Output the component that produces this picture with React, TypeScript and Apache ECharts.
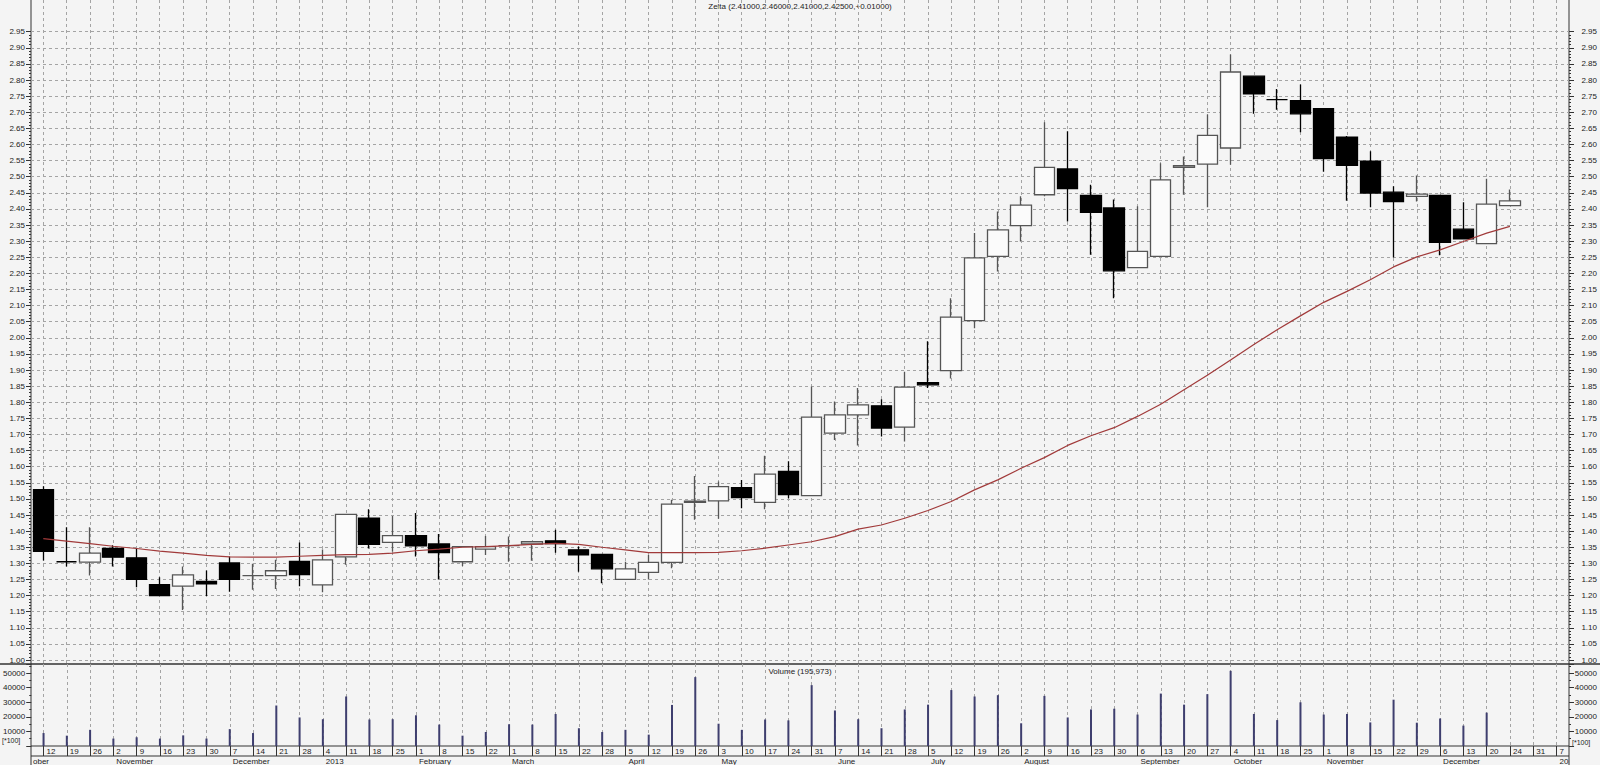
import React, { useEffect, useRef } from "react";
import * as echarts from "echarts";

// ---------- data ----------
const dateLabels = [
  "12", "19", "26", "2", "9", "16", "23", "30", "7", "14", "21", "28", "4", "11", "18", "25",
  "1", "8", "15", "22", "1", "8", "15", "22", "28", "5", "12", "19", "26", "3", "10", "17",
  "24", "31", "7", "14", "21", "28", "5", "12", "19", "26", "2", "9", "16", "23", "30", "6",
  "13", "20", "27", "4", "11", "18", "25", "1", "8", "15", "22", "29", "6", "13", "20", "24",
  "31", "7",
];
const monthStarts = [3, 8, 12, 16, 20, 25, 29, 34, 38, 42, 47, 51, 55, 60, 65];
const monthNames = [
  "November", "December", "2013", "February", "March", "April", "May", "June", "July",
  "August", "September", "October", "November", "December", "20",
];

const opens = [
  1.529, 1.305, 1.304, 1.346, 1.317, 1.234, 1.229, 1.244, 1.301, 1.262, 1.262, 1.306, 1.233, 1.32, 1.44, 1.365,
  1.386, 1.36, 1.305, 1.344, 1.355, 1.36, 1.37, 1.342, 1.328, 1.25, 1.272, 1.303, 1.489, 1.494, 1.535, 1.489,
  1.585, 1.51, 1.704, 1.761, 1.789, 1.723, 1.861, 1.898, 2.053, 2.253, 2.348, 2.444, 2.524, 2.442, 2.403, 2.218,
  2.253, 2.529, 2.539, 2.589, 2.812, 2.739, 2.736, 2.711, 2.623, 2.548, 2.452, 2.439, 2.442, 2.337, 2.292, 2.41,
];
const closes = [
  1.337, 1.305, 1.332, 1.319, 1.25, 1.2, 1.264, 1.236, 1.25, 1.262, 1.277, 1.265, 1.311, 1.452, 1.359, 1.386,
  1.354, 1.333, 1.352, 1.352, 1.355, 1.367, 1.361, 1.326, 1.283, 1.283, 1.303, 1.484, 1.493, 1.538, 1.504, 1.577,
  1.513, 1.754, 1.761, 1.792, 1.72, 1.847, 1.854, 2.064, 2.248, 2.335, 2.412, 2.529, 2.463, 2.389, 2.208, 2.268,
  2.49, 2.534, 2.628, 2.825, 2.757, 2.739, 2.695, 2.556, 2.535, 2.449, 2.423, 2.446, 2.296, 2.307, 2.415, 2.425,
];
const lows = [
  1.309, 1.29, 1.262, 1.29, 1.226, 1.2, 1.155, 1.199, 1.212, 1.218, 1.22, 1.229, 1.21, 1.296, 1.346, 1.336,
  1.321, 1.25, 1.292, 1.326, 1.305, 1.308, 1.333, 1.274, 1.238, 1.25, 1.25, 1.285, 1.435, 1.438, 1.471, 1.468,
  1.502, 1.51, 1.683, 1.666, 1.694, 1.678, 1.844, 1.874, 2.03, 2.206, 2.299, 2.439, 2.361, 2.258, 2.123, 2.218,
  2.253, 2.444, 2.405, 2.537, 2.695, 2.708, 2.638, 2.515, 2.425, 2.405, 2.249, 2.423, 2.256, 2.307, 2.292, 2.41,
];
const highs = [
  1.539, 1.412, 1.412, 1.356, 1.346, 1.257, 1.29, 1.278, 1.321, 1.299, 1.311, 1.365, 1.343, 1.452, 1.468, 1.447,
  1.456, 1.391, 1.352, 1.385, 1.383, 1.367, 1.404, 1.352, 1.328, 1.305, 1.326, 1.497, 1.571, 1.554, 1.559, 1.634,
  1.617, 1.849, 1.802, 1.844, 1.809, 1.895, 1.989, 2.123, 2.325, 2.392, 2.439, 2.669, 2.641, 2.475, 2.429, 2.408,
  2.542, 2.563, 2.693, 2.879, 2.812, 2.772, 2.786, 2.711, 2.626, 2.579, 2.47, 2.504, 2.442, 2.421, 2.494, 2.46,
];
const maValues = [
  1.377, 1.369, 1.361, 1.353, 1.346, 1.338, 1.332, 1.325, 1.32, 1.319, 1.319, 1.322, 1.325, 1.327, 1.328, 1.332,
  1.339, 1.344, 1.35, 1.352, 1.355, 1.359, 1.362, 1.359, 1.35, 1.342, 1.333, 1.333, 1.333, 1.334, 1.339, 1.347,
  1.357, 1.367, 1.383, 1.406, 1.419, 1.44, 1.464, 1.492, 1.528, 1.559, 1.595, 1.628, 1.666, 1.696, 1.721, 1.756,
  1.794, 1.839, 1.884, 1.931, 1.979, 2.025, 2.068, 2.11, 2.144, 2.18, 2.22, 2.251, 2.273, 2.299, 2.325, 2.346,
];
const volumes = [
  8900, 7100, 11100, 5100, 6000, 5100, 7300, 5100, 11600, 8900, 27800, 19600, 18400, 34000, 18200, 18400,
  21100, 14700, 7100, 9600, 14900, 14700, 22000, 12200, 9600, 11100, 7800, 28200, 47300, 15300, 11100, 18200,
  17600, 41800, 24400, 18400, 12200, 25100, 28400, 38400, 34000, 34900, 15600, 34400, 19600, 25100, 25600, 21600,
  36000, 28400, 35600, 51600, 22000, 17800, 30000, 21600, 22000, 16200, 31800, 16000, 18900, 14000, 22900, null,
];

const titleText = "Zelta (2.41000,2.46000,2.41000,2.42500,+0.01000)";
const volumeText = "Volume (195,973)";

// ---------- layout ----------
const FONT = "'Liberation Sans', Arial, sans-serif";
const W = 1600;
const H = 765;
const AXL = 31; // left axis x
const AXR = 1569; // right axis x
const GL = 43.3; // first category centre
const GR = W - 1556.5; // last category centre
const PRICE_TOP = 31.7;
const PRICE_BOT = 660;
const PANEL_DIV = 664;
const VOL_BOT = 746;
const pxPerUnit = (PRICE_BOT - PRICE_TOP) / (2.95 - 1.0);
const PMAX = 2.95 + PRICE_TOP / pxPerUnit;
const PMIN = 1.0 - (PANEL_DIV - PRICE_BOT) / pxPerUnit;

const GRIDC = "#a4a4a4";
const AXC = "#333";
const TXT = "#222";

export default function App() {
  const ref = useRef<HTMLDivElement>(null);
  useEffect(() => {
    if (!ref.current) return;
    const chart = echarts.init(ref.current, undefined, { renderer: "svg" });
    const candleData = opens.map((o, i) => [o, closes[i], lows[i], highs[i]]);
    const dash = { color: GRIDC, type: [3, 3] as any, width: 1 };
    const monthMap: Record<number, string> = {};
    monthStarts.forEach((m, i) => (monthMap[m] = monthNames[i]));

    const priceAxisCommon = {
      gridIndex: 1,
      type: "value",
      min: 1.0,
      max: 2.95,
      interval: 0.05,
      axisLine: { show: false },
      axisTick: { show: true, length: 5, lineStyle: { color: AXC } },
      minorTick: { show: true, splitNumber: 5, length: 2, lineStyle: { color: AXC } },
    };
    const volAxisCommon = {
      gridIndex: 2,
      type: "value",
      min: 0,
      max: 56300,
      interval: 10000,
      axisLine: { show: false },
      axisTick: { show: true, length: 5, lineStyle: { color: AXC } },
      minorTick: { show: true, splitNumber: 2, length: 2, lineStyle: { color: AXC } },
      splitLine: { show: false },
    };
    const volFmt = (v: number) => String(Math.round(v));

    const option: any = {
      animation: false,
      backgroundColor: "#f4f4f4",
      textStyle: { fontFamily: FONT },
      grid: [
        { left: GL, right: GR, top: 0, height: PANEL_DIV },
        { left: AXL, right: W - AXR, top: PRICE_TOP, height: PRICE_BOT - PRICE_TOP },
        { left: GL, right: GR, top: PANEL_DIV, height: VOL_BOT - PANEL_DIV },
      ],
      xAxis: [
        {
          gridIndex: 0,
          type: "category",
          data: dateLabels,
          boundaryGap: false,
          axisLine: { show: false },
          axisTick: { show: false },
          axisLabel: { show: false, interval: 0 },
          splitLine: { show: true, interval: 0, lineStyle: dash },
        },
        { gridIndex: 1, type: "value", show: false, min: 0, max: 1 },
        {
          gridIndex: 2,
          type: "category",
          data: dateLabels,
          boundaryGap: false,
          position: "bottom",
          axisLine: { show: false },
          axisTick: { show: true, interval: 0, length: 10, lineStyle: { color: AXC } },
          axisLabel: {
            interval: 0,
            align: "left",
            margin: 1,
            fontSize: 8,
            color: TXT,
            padding: [0, 0, 0, 3],
            fontFamily: FONT,
          },
          splitLine: { show: true, interval: 0, lineStyle: dash },
        },
        {
          gridIndex: 2,
          type: "category",
          data: dateLabels,
          boundaryGap: false,
          position: "bottom",
          offset: 10,
          axisLine: { show: false },
          axisTick: {
            show: true,
            interval: (i: number) => monthMap[i] !== undefined,
            length: 9,
            lineStyle: { color: AXC },
          },
          axisLabel: {
            interval: 0,
            align: "left",
            margin: 1,
            fontSize: 8,
            color: TXT,
            padding: [0, 0, 0, 3],
            fontFamily: FONT,
            formatter: (_v: string, i: number) => monthMap[i] ?? "",
          },
          splitLine: { show: false },
        },
      ],
      yAxis: [
        { gridIndex: 0, type: "value", min: PMIN, max: PMAX, show: false },
        {
          ...priceAxisCommon,
          position: "left",
          axisLabel: { margin: 6, fontSize: 8, color: TXT, formatter: (v: number) => v.toFixed(2) },
          splitLine: { show: true, lineStyle: dash },
        },
        {
          ...priceAxisCommon,
          position: "right",
          axisLabel: { margin: 28, align: "right", fontSize: 8, color: TXT, formatter: (v: number) => v.toFixed(2) },
          splitLine: { show: false },
        },
        {
          ...volAxisCommon,
          position: "left",
          offset: GL - AXL,
          axisLabel: { margin: 6, fontSize: 8, color: TXT, showMinLabel: false, showMaxLabel: false, formatter: volFmt },
        },
        {
          ...volAxisCommon,
          position: "right",
          offset: AXR - (W - GR),
          axisLabel: {
            margin: 28,
            align: "right",
            fontSize: 8,
            color: TXT,
            showMinLabel: false,
            showMaxLabel: false,
            formatter: volFmt,
          },
        },
      ],
      series: [
        {
          type: "candlestick",
          xAxisIndex: 0,
          yAxisIndex: 0,
          data: candleData,
          barWidth: 21,
          z: 3,
          itemStyle: {
            color: "#fbfbfb",
            color0: "#000000",
            borderColor: "#555555",
            borderColor0: "#000000",
            borderWidth: 1.3,
          },
        },
        {
          type: "line",
          xAxisIndex: 0,
          yAxisIndex: 0,
          data: maValues,
          showSymbol: false,
          symbol: "none",
          z: 4,
          lineStyle: { color: "#a13a3a", width: 1.2 },
        },
        {
          type: "bar",
          xAxisIndex: 2,
          yAxisIndex: 3,
          data: volumes,
          barWidth: 2,
          itemStyle: { color: "#3e3e6e" },
        },
      ],
      graphic: [
        { type: "line", shape: { x1: 0, y1: PANEL_DIV, x2: W, y2: PANEL_DIV }, style: { stroke: "#333", lineWidth: 1.5 } },
        { type: "line", shape: { x1: AXL, y1: VOL_BOT, x2: AXR, y2: VOL_BOT }, style: { stroke: AXC, lineWidth: 1 } },
        { type: "line", shape: { x1: AXL, y1: VOL_BOT + 10, x2: AXR, y2: VOL_BOT + 10 }, style: { stroke: AXC, lineWidth: 1 } },
        { type: "line", shape: { x1: AXL, y1: 0, x2: AXL, y2: H }, style: { stroke: AXC, lineWidth: 1 } },
        { type: "line", shape: { x1: AXR, y1: 0, x2: AXR, y2: H }, style: { stroke: AXC, lineWidth: 1 } },
        {
          type: "text",
          x: 800,
          y: 6,
          style: { text: titleText, fill: TXT, font: `8px ${FONT}`, align: "center", verticalAlign: "middle" },
        },
        {
          type: "text",
          x: 800,
          y: 671,
          style: { text: volumeText, fill: TXT, font: `8px ${FONT}`, align: "center", verticalAlign: "middle" },
        },
        {
          type: "text",
          x: 2,
          y: 740,
          style: { text: "[*100]", fill: TXT, font: `7px ${FONT}`, align: "left", verticalAlign: "middle" },
        },
        {
          type: "text",
          x: 1572,
          y: 742,
          style: { text: "[*100]", fill: TXT, font: `7px ${FONT}`, align: "left", verticalAlign: "middle" },
        },
        {
          type: "text",
          x: AXL + 2,
          y: 761,
          style: { text: "ober", fill: TXT, font: `8px ${FONT}`, align: "left", verticalAlign: "middle" },
        },
      ],
    };
    chart.setOption(option);
    return () => chart.dispose();
  }, []);

  return (
    <div
      ref={ref}
      style={{ position: "fixed", left: 0, top: 0, width: W, height: H, background: "#f4f4f4" }}
    />
  );
}
